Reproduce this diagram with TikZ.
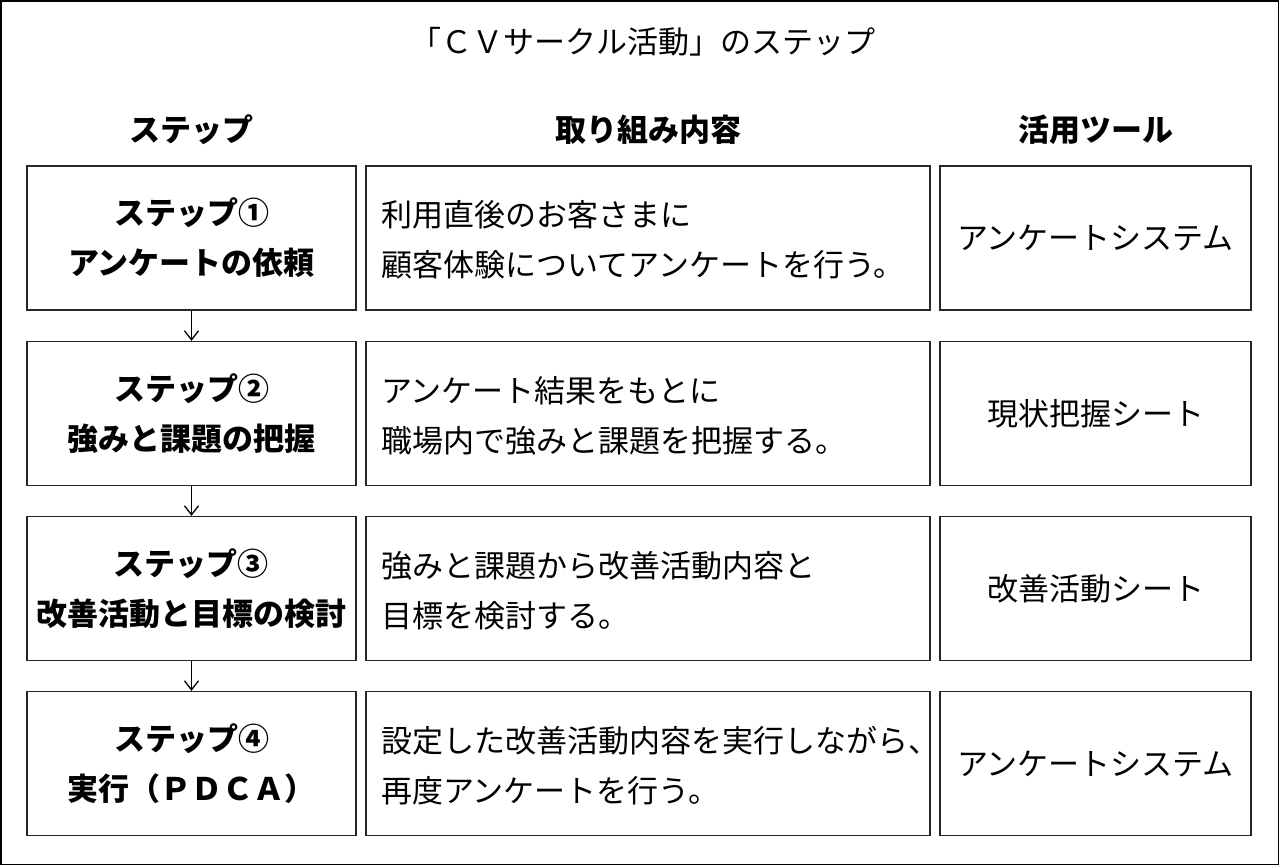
\documentclass[tikz,border=0pt]{standalone}
\usepackage{fontspec}
\setmainfont{Noto Sans CJK JP}
\usetikzlibrary{arrows.meta}
\begin{document}
\begin{tikzpicture}[x=1pt,y=-1pt,
  every node/.style={font=\fontsize{31}{50}\selectfont},
  cell/.style={draw=black!85,line width=1.3pt,minimum height=144pt,inner sep=0pt,align=center},
  stepcell/.style={cell,minimum width=329pt,font=\fontsize{31}{50}\selectfont\bfseries},
  desccell/.style={cell,minimum width=564pt},
  desctext/.style={anchor=west,align=left,inner sep=0pt},
  toolcell/.style={cell,minimum width=311pt},
  head/.style={font=\fontsize{31}{36}\selectfont\bfseries},
  flow/.style={draw=black,line width=1.3pt,-{Straight Barb[length=9pt,width=14pt,line width=1.3pt]}}
]
\useasboundingbox (0,0) rectangle (1280,866);
\draw[line width=1.5pt] (1,1) rectangle (1278.5,864.5);
\node (title) at (643,42) {「ＣＶサークル活動」のステップ};
\node[head] (h1) at (191.5,130) {ステップ};
\node[head] (h2) at (648,130) {取り組み内容};
\node[head] (h3) at (1095.5,130) {活用ツール};

\node[stepcell] (s1) at (191.5,238) {ステップ①\\アンケートの依頼};
\node[stepcell] (s2) at (191.5,413.5) {ステップ②\\強みと課題の把握};
\node[stepcell] (s3) at (191.5,588.5) {ステップ③\\改善活動と目標の検討};
\node[stepcell] (s4) at (191.5,763.5) {ステップ④\\実行（ＰＤＣＡ）};

\node[desccell] (d1) at (648,238) {};
\node[desccell] (d2) at (648,413.5) {};
\node[desccell] (d3) at (648,588.5) {};
\node[desccell] (d4) at (648,763.5) {};
\node[desctext] (x1) at (381,240) {利用直後のお客さまに\\顧客体験についてアンケートを行う。};
\node[desctext] (x2) at (381,415.5) {アンケート結果をもとに\\職場内で強みと課題を把握する。};
\node[desctext] (x3) at (381,590.5) {強みと課題から改善活動内容と\\目標を検討する。};
\node[desctext] (x4) at (381,765.5) {設定した改善活動内容を実行しながら、\\再度アンケートを行う。};

\node[toolcell] (t1) at (1095.5,238) {アンケートシステム};
\node[toolcell] (t2) at (1095.5,413.5) {現状把握シート};
\node[toolcell] (t3) at (1095.5,588.5) {改善活動シート};
\node[toolcell] (t4) at (1095.5,763.5) {アンケートシステム};

\draw[flow] (s1.south) -- (s2.north);
\draw[flow] (s2.south) -- (s3.north);
\draw[flow] (s3.south) -- (s4.north);
\end{tikzpicture}
\end{document}
